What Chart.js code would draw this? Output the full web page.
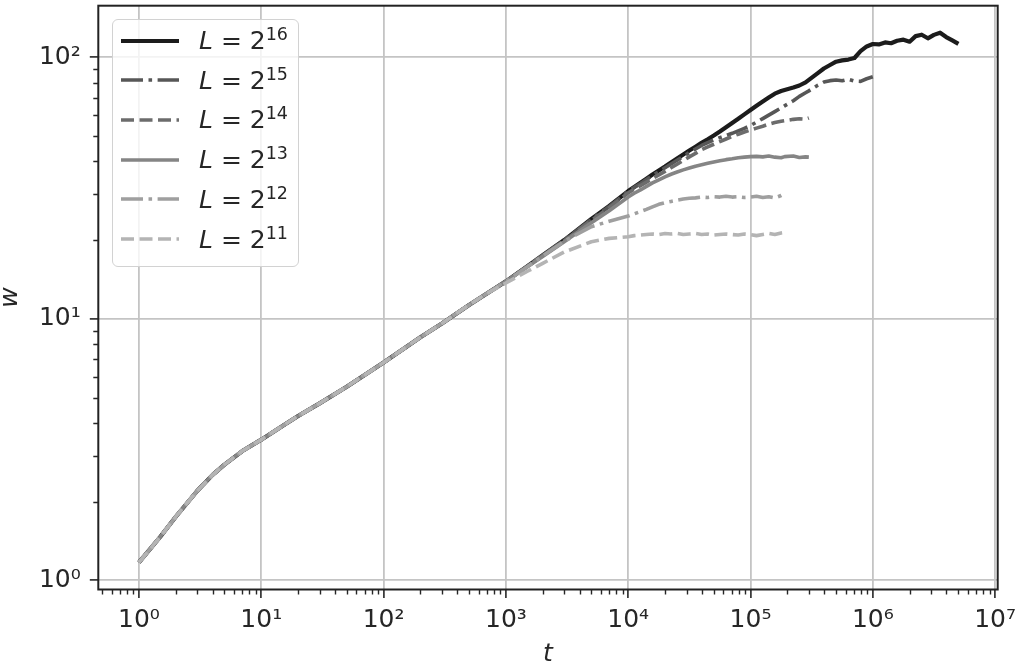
<!DOCTYPE html>
<html>
<head>
<meta charset="utf-8">
<script src="https://cdn.jsdelivr.net/npm/chart.js@4.4.1/dist/chart.umd.min.js"></script>
<style>
  html, body { margin: 0; padding: 0; background: #fff; }
  #wrap { position: relative; width: 1017px; height: 667px; }
  #legend {
    position: absolute; left: 112px; top: 19px; width: 187px; height: 248px;
    box-sizing: border-box; border: 1.5px solid #d2d2d2; border-radius: 6px;
    background: rgba(255, 255, 255, 0.8);
    font-family: 'DejaVu Sans', sans-serif; font-size: 25px; color: #262626;
  }
  .row { position: absolute; left: 8px; height: 40px; display: flex; align-items: center; white-space: nowrap; }
  .row svg { display: block; }
  .lab { margin-left: 20px; line-height: 1; }
  .lab sup { font-size: 0.7em; vertical-align: 0.5em; line-height: 0; }
</style>
</head>
<body>
<div id="wrap">
  <canvas id="chart" width="1017" height="667"></canvas>
  <div id="legend"></div>
</div>
<script>
// shared time grid
const times = [1, 1.5, 2, 3, 4, 5, 7, 10, 15, 20, 30, 50, 70, 100, 150, 200, 300, 500, 700,
  1000, 1500, 2000, 3000, 5000, 7000,
  10000, 11200, 12600, 14100, 15800, 17800, 20000, 22400, 25100, 28200, 31600, 35500, 39800, 44700, 50100, 56200, 63100, 70800, 79400, 89100,
  100000, 112000, 126000, 141000, 158000, 178000, 190000, 224000, 251000, 282000, 300000, 355000, 398000, 447000, 501000, 562000, 631000, 708000, 794000, 891000,
  1000000, 1120000, 1260000, 1410000, 1580000, 1780000, 2000000, 2240000, 2510000, 2820000, 3160000, 3550000, 3980000, 4470000, 5010000];

// common early part (t = 1 .. 700), all sizes overlap
const wEarly = [1.17, 1.47, 1.75, 2.2, 2.53, 2.77, 3.12, 3.45, 3.9, 4.25, 4.75, 5.5, 6.1, 6.8, 7.75, 8.5, 9.6, 11.3, 12.5];

// from t = 1000 on
const w16 = [13.9, 15.9, 17.5, 20.0, 24.1, 27.0,
  30.8, 31.9, 33.1, 34.3, 35.6, 36.9, 38.2, 39.6, 41.0, 42.5, 44.0, 45.5, 47.1, 48.6, 50.2, 52.0, 54.0, 56.1, 58.2, 60.5,
  62.9, 65.3, 67.8, 70.2, 72.6, 74.3, 75.0, 76.6, 78.0, 80.2, 82.0, 87.0, 90.6, 93.4, 96.2, 97.3, 98.0, 99.4, 105.5, 110.0,
  112.4, 112.0, 114.0, 113.2, 115.7, 116.8, 114.7, 120.5, 122.0, 118.2, 121.8, 124.2, 119.5, 116.0, 112.5];
const w15 = [13.9, 15.9, 17.5, 20.0, 24.0, 26.9,
  30.7, 31.8, 32.9, 34.1, 35.3, 36.5, 37.8, 39.1, 40.4, 41.8, 43.2, 44.6, 46.0, 47.2, 48.3, 49.3, 50.2, 51.2, 52.3, 53.5,
  54.8, 56.5, 58.3, 60.1, 62.0, 64.0, 65.2, 68.2, 70.9, 73.2, 74.4, 78.2, 80.4, 81.4, 81.9, 81.3, 82.4, 81.1, 80.9, 82.8,
  84.3];
const w14 = [13.9, 15.9, 17.5, 19.9, 23.8, 26.6,
  30.3, 31.3, 32.3, 33.3, 34.4, 35.5, 36.6, 37.8, 39.0, 40.3, 41.6, 42.9, 44.3, 45.4, 46.5, 47.6, 48.7, 49.8, 50.8, 51.8,
  52.7, 53.6, 54.5, 55.5, 56.3, 56.9, 57.2, 57.9, 58.2, 58.0, 58.6];
const w13 = [13.9, 15.8, 17.3, 19.7, 23.3, 25.9,
  29.2, 30.2, 31.1, 32.1, 33.1, 34.0, 34.9, 35.7, 36.4, 37.1, 37.7, 38.3, 38.8, 39.3, 39.8, 40.2, 40.6, 40.9, 41.3, 41.5,
  41.7, 41.8, 41.6, 41.9, 41.5, 41.3, 41.7, 41.9, 41.4, 41.6, 41.5];
const w12 = [13.9, 15.8, 17.4, 19.8, 22.5, 23.6,
  24.7, 25.2, 25.7, 26.2, 26.8, 27.4, 27.8, 28.1, 28.4, 28.7, 28.9, 29.0, 29.2, 29.1, 29.3, 29.2, 29.4, 29.2, 29.3, 29.1,
  29.2, 29.4, 29.1, 29.3, 29.0, 29.6, 30.1];
const w11 = [13.7, 15.2, 16.3, 18.0, 19.7, 20.3,
  20.6, 20.8, 20.9, 21.0, 21.1, 21.0, 21.2, 21.1, 21.2, 21.0, 21.1, 21.2, 21.0, 21.1, 20.9, 21.0, 21.1, 21.0, 20.9, 21.1,
  21.0, 20.8, 21.0, 21.2, 21.0, 21.3, 21.4];

const exps = [16, 15, 14, 13, 12, 11];
const series = [w16, w15, w14, w13, w12, w11];
const colors = ['#1c1c1c', '#575757', '#6c6c6c', '#858585', '#9f9f9f', '#b4b4b4'];
const widths = [4.2, 3.6, 3.6, 3.6, 3.6, 3.6];
const dashes = [[], [22, 5.5, 3.6, 5.5], [13, 5.5], [], [22, 5.5, 3.6, 5.5], [13, 5.5]];

const xMajor = [1, 10, 100, 1000, 10000, 100000, 1000000, 10000000];
const yMajor = [1, 10, 100];
const sup = ['⁰', '¹', '²', '³', '⁴', '⁵', '⁶', '⁷'];

function tickText(v) {
  return '10' + sup[Math.round(Math.log10(v))];
}

const datasets = series.map((w, i) => {
  const vals = wEarly.concat(w);
  return {
    label: 'L = 2^' + exps[i],
    data: vals.map((v, k) => ({ x: times[k], y: v })),
    borderColor: colors[i],
    borderWidth: widths[i],
    borderDash: dashes[i],
    borderCapStyle: 'butt',
    borderJoinStyle: 'round',
    pointRadius: 0,
    tension: 0,
    fill: false,
    order: 6 - i
  };
});

// minor ticks on both axes
const minorTicks = {
  id: 'minorTicks',
  afterDraw(chart) {
    const { ctx, scales: { x, y } } = chart;
    ctx.save();
    ctx.strokeStyle = '#262626';
    ctx.lineWidth = 1.4;
    ctx.beginPath();
    for (let e = -1; e <= 7; e++) {
      for (let m = 2; m <= 9; m++) {
        const v = m * Math.pow(10, e);
        if (v > x.min && v < x.max) {
          const px = Math.round(x.getPixelForValue(v)) + 0.5;
          ctx.moveTo(px, x.top);
          ctx.lineTo(px, x.top + 5);
        }
        if (v > y.min && v < y.max) {
          const py = Math.round(y.getPixelForValue(v)) + 0.5;
          ctx.moveTo(y.right, py);
          ctx.lineTo(y.right - 5, py);
        }
      }
    }
    ctx.stroke();
    ctx.restore();
  }
};

// box around the plot area
const frame = {
  id: 'frame',
  afterDatasetsDraw(chart) {
    const { ctx, chartArea: a } = chart;
    ctx.save();
    ctx.strokeStyle = '#222';
    ctx.lineWidth = 2;
    ctx.strokeRect(a.left, a.top, a.right - a.left, a.bottom - a.top);
    ctx.restore();
  }
};

// labels at the ends should not push the plot area in
function noPad(s) {
  s.paddingLeft = 0; s.paddingRight = 0; s.paddingTop = 0; s.paddingBottom = 0;
}

Chart.defaults.font.family = "'DejaVu Sans', sans-serif";

new Chart(document.getElementById('chart'), {
  type: 'line',
  data: { datasets },
  plugins: [minorTicks, frame],
  options: {
    responsive: false,
    animation: false,
    layout: { padding: { left: 0, right: 19.3, top: 5.7, bottom: 0 } },
    plugins: { legend: { display: false }, tooltip: { enabled: false } },
    scales: {
      x: {
        type: 'logarithmic',
        min: 0.465,
        max: 1.05e7,
        afterBuildTicks: s => { s.ticks = xMajor.map(v => ({ value: v })); },
        afterFit: s => { s.height = 77.5; noPad(s); },
        grid: { color: '#c4c4c4', lineWidth: 1.8, tickLength: 8.5, tickColor: '#262626', tickWidth: 1.6 },
        border: { display: false },
        ticks: { autoSkip: false, maxRotation: 0, padding: 7, color: '#262626', font: { size: 25 }, callback: v => tickText(v) },
        title: { display: true, text: 't', color: '#262626', font: { size: 25, style: 'italic' }, padding: { top: 0, bottom: -2 } }
      },
      y: {
        type: 'logarithmic',
        min: 0.922,
        max: 157.5,
        afterBuildTicks: s => { s.ticks = yMajor.map(v => ({ value: v })); },
        afterFit: s => { s.width = 98.3; noPad(s); },
        grid: { color: '#c4c4c4', lineWidth: 1.8, tickLength: 8.5, tickColor: '#262626', tickWidth: 1.6 },
        border: { display: false },
        ticks: { autoSkip: false, padding: 9, color: '#262626', font: { size: 25 }, callback: v => tickText(v) },
        title: { display: true, text: 'w', color: '#262626', font: { size: 25, style: 'italic' }, padding: { top: -5, bottom: 0 } }
      }
    }
  }
});

// legend drawn as html, so L can be italic and the power raised
const legend = document.getElementById('legend');
exps.forEach((e, i) => {
  const row = document.createElement('div');
  row.className = 'row';
  row.style.top = (0.5 + i * 39.7) + 'px';
  const dash = dashes[i].length ? dashes[i].join(' ') : 'none';
  row.innerHTML = '<svg width="58" height="10"><line x1="0" y1="5" x2="58" y2="5" stroke="' + colors[i] +
    '" stroke-width="' + widths[i] + '" stroke-dasharray="' + dash + '"/></svg>' +
    '<span class="lab"><i>L</i> = 2<sup>' + e + '</sup></span>';
  legend.appendChild(row);
});
</script>
</body>
</html>
